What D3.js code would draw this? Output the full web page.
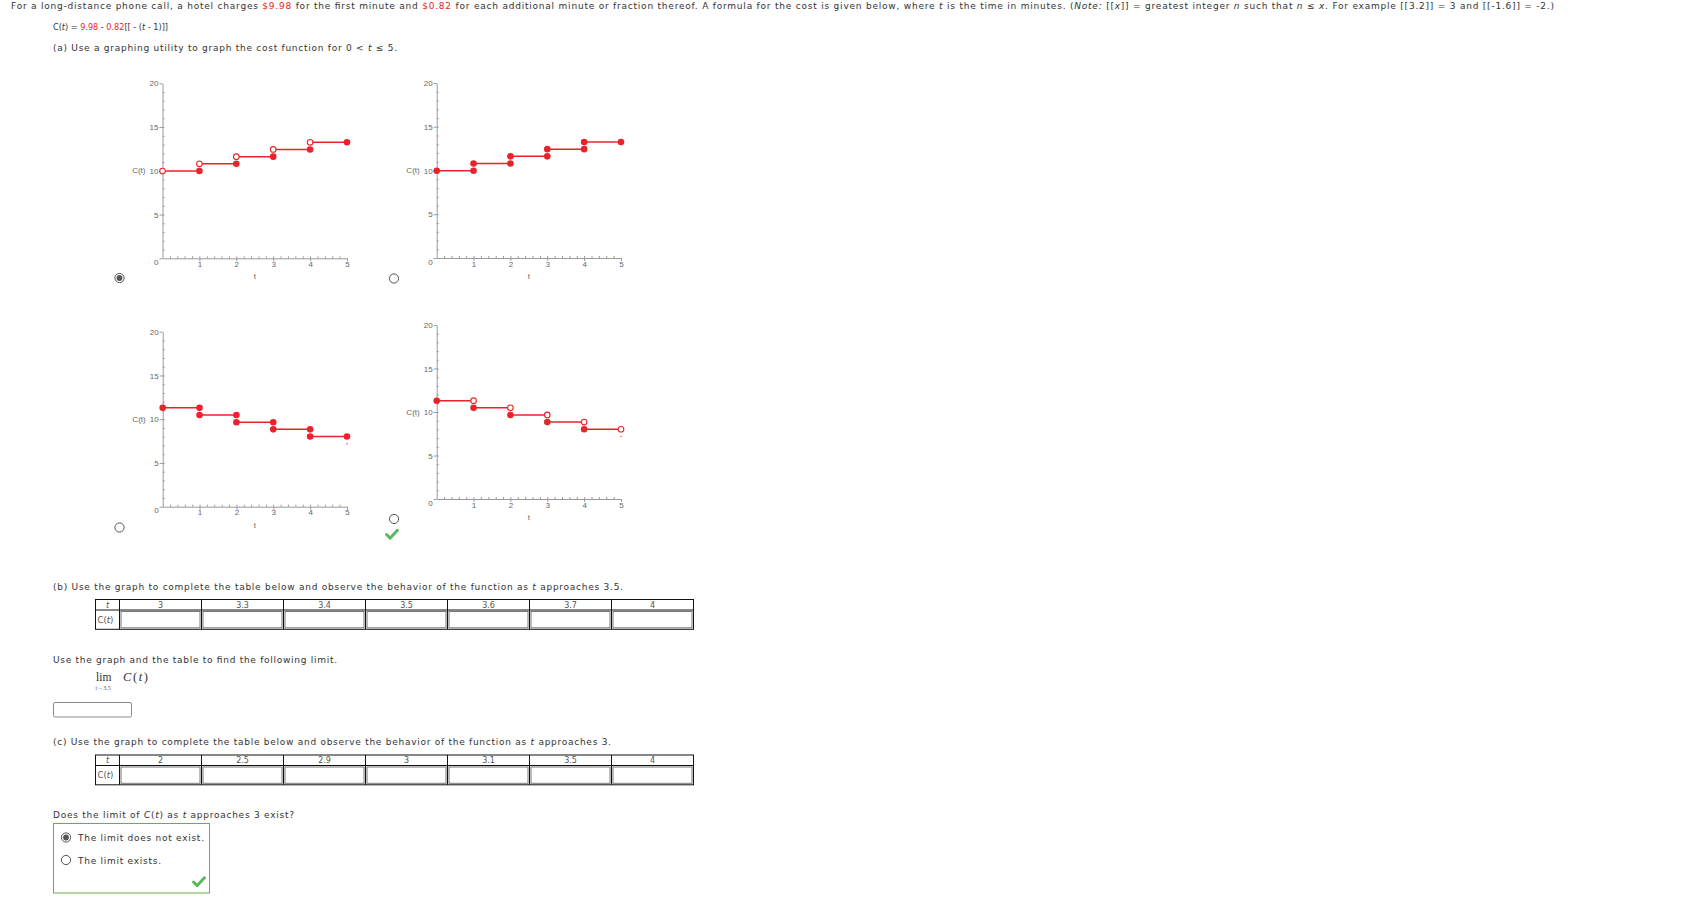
<!DOCTYPE html>
<html>
<head>
<meta charset="utf-8">
<script src="https://cdn.jsdelivr.net/npm/d3@7"></script>
<style>
  body { margin: 0; background: #fff; }
  text { white-space: pre; }
</style>
</head>
<body>
<svg id="page" width="1703" height="909"></svg>
<script>
// --- data ---
const tStart = [0, 1, 2, 3, 4];
const tEnd = [1, 2, 3, 4, 5];
const costUp = [9.98, 10.80, 11.62, 12.44, 13.26];     // graphs 1 and 2
const costDown = [11.30, 10.48, 9.66, 8.84, 8.02];     // graphs 3 and 4
const strayDown = [5, 7.20];                           // tiny mark under the last step
const yTicks = [0, 5, 10, 15, 20];
const xTicks = [1, 2, 3, 4, 5];
const tableB = ["3", "3.3", "3.4", "3.5", "3.6", "3.7", "4"];
const tableC = ["2", "2.5", "2.9", "3", "3.1", "3.5", "4"];

const RED = "#e8232b";
const INK = "#333";
const FONT = "'DejaVu Sans', Verdana, sans-serif";
const SERIF = "'Liberation Serif', 'Times New Roman', serif";
const AXISFONT = "'Liberation Sans', Arial, sans-serif";

const svg = d3.select("#page");

// text with italic / red runs
function rich(x, y, parts, width, adjust) {
    const t = svg.append("text")
        .attr("x", x).attr("y", y)
        .attr("font-family", FONT)
        .attr("font-size", 9)
        .attr("fill", INK);
    parts.forEach(p => {
        const s = t.append("tspan").text(p[0]);
        if (p[1] && p[1].includes("i")) s.attr("font-style", "italic");
        if (p[1] && p[1].includes("r")) s.attr("fill", RED);
    });
    if (width) t.attr("textLength", width).attr("lengthAdjust", adjust || "spacing");
    return t;
}

// --- header ---
rich(11, 9, [
    ["For a long-distance phone call, a hotel charges "], ["$9.98", "r"],
    [" for the first minute and "], ["$0.82", "r"],
    [" for each additional minute or fraction thereof. A formula for the cost is given below, where "],
    ["t", "i"], [" is the time in minutes. ("], ["Note:", "i"], [" [["], ["x", "i"],
    ["]] = greatest integer "], ["n", "i"], [" such that "], ["n", "i"], [" ≤ "], ["x", "i"],
    [". For example [[3.2]] = 3 and [[-1.6]] = -2.)"]
], 1543);
rich(53, 29.5, [
    ["C("], ["t", "i"], [") = "], ["9.98", "r"], [" - "], ["0.82", "r"],
    ["[[ - ("], ["t", "i"], [" - 1)]]"]
], 115, "spacingAndGlyphs");
rich(53, 51, [
    ["(a) Use a graphing utility to graph the cost function for 0 < "], ["t", "i"], [" ≤ 5."]
], 344);

// --- the four answer graphs ---
const panels = [
    { ax: 162.5, x5: 347, y0: 258.3, y20: 83.3, values: costUp, leftOpen: true, rightOpen: false,
      radio: [119.5, 278], selected: true },
    { ax: 436.7, x5: 621, y0: 258, y20: 83, values: costUp, leftOpen: false, rightOpen: false,
      radio: [394, 278.5] },
    { ax: 162.7, x5: 347, y0: 506.7, y20: 331.7, values: costDown, leftOpen: false, rightOpen: false,
      radio: [119.5, 527.5], stray: true },
    { ax: 436.7, x5: 621, y0: 499, y20: 325, values: costDown, leftOpen: false, rightOpen: true,
      radio: [394, 519], stray: true, check: [392, 534.5] }
];

function radio(cx, cy, selected) {
    svg.append("circle").attr("cx", cx).attr("cy", cy).attr("r", 4.6)
        .attr("fill", "#fff").attr("stroke", "#555").attr("stroke-width", 1);
    if (selected) {
        svg.append("circle").attr("cx", cx).attr("cy", cy).attr("r", 2.9).attr("fill", "#555");
    }
}

function check(cx, cy) {
    svg.append("path")
        .attr("d", `M${cx - 5.5},${cy} L${cx - 1.8},${cy + 3.6} L${cx + 5.5},${cy - 4.2}`)
        .attr("fill", "none").attr("stroke", "#5cb85c")
        .attr("stroke-width", 3).attr("stroke-linecap", "round").attr("stroke-linejoin", "round");
}

panels.forEach(p => {
    const x = d3.scaleLinear().domain([0, 5]).range([p.ax, p.x5]);
    const y = d3.scaleLinear().domain([0, 20]).range([p.y0, p.y20]);
    const g = svg.append("g");

    // minor ticks
    g.append("g")
        .attr("transform", `translate(0,${p.y0})`)
        .call(d3.axisTop(x).tickValues(d3.range(0.2, 5, 0.2)).tickSize(2).tickSizeOuter(0).tickFormat(""))
        .call(a => a.select(".domain").remove());
    g.append("g")
        .attr("transform", `translate(${p.ax},0)`)
        .call(d3.axisRight(y).tickValues(d3.range(1, 20, 1)).tickSize(2).tickSizeOuter(0).tickFormat(""))
        .call(a => a.select(".domain").remove());

    // main axes
    g.append("g")
        .attr("transform", `translate(0,${p.y0})`)
        .call(d3.axisBottom(x).tickValues(xTicks).tickFormat(d3.format("d"))
            .tickSize(3).tickPadding(0).tickSizeOuter(0));
    const gy = g.append("g")
        .attr("transform", `translate(${p.ax},0)`)
        .call(d3.axisLeft(y).tickValues(yTicks).tickFormat(d3.format("d"))
            .tickSize(3).tickPadding(1).tickSizeOuter(0));
    gy.selectAll(".tick text").filter(d => d === 0).attr("dy", "0.78em");

    g.selectAll(".domain, .tick line").attr("stroke", "#9a9a9a");
    g.selectAll("g").attr("font-family", AXISFONT).attr("font-size", 8);
    g.selectAll(".tick text").attr("fill", "#666");

    g.append("text")
        .attr("x", p.ax - 17).attr("y", y(10)).attr("dy", "0.32em")
        .attr("text-anchor", "end")
        .attr("font-family", AXISFONT).attr("font-size", 8)
        .attr("fill", "#666").text("C(t)");
    g.append("text")
        .attr("x", x(2.5)).attr("y", p.y0 + 18.5).attr("dy", "0.32em")
        .attr("text-anchor", "middle")
        .attr("font-family", AXISFONT).attr("font-size", 8)
        .attr("fill", "#666").text("t");

    // steps
    g.selectAll(".step")
        .data(p.values)
        .join("line")
        .attr("x1", (d, i) => x(tStart[i]))
        .attr("x2", (d, i) => x(tEnd[i]))
        .attr("y1", d => y(d))
        .attr("y2", d => y(d))
        .attr("stroke", RED)
        .attr("stroke-width", 1.5);

    const ends = [];
    p.values.forEach((v, i) => {
        ends.push({ t: tStart[i], v: v, open: p.leftOpen });
        ends.push({ t: tEnd[i], v: v, open: p.rightOpen });
    });
    g.selectAll(".end")
        .data(ends)
        .join("circle")
        .attr("cx", d => x(d.t))
        .attr("cy", d => y(d.v))
        .attr("r", d => d.open ? 2.8 : 3.3)
        .attr("fill", d => d.open ? "#fff" : RED)
        .attr("stroke", RED)
        .attr("stroke-width", d => d.open ? 1.1 : 0);

    if (p.stray) {
        g.append("circle")
            .attr("cx", x(strayDown[0])).attr("cy", y(strayDown[1]))
            .attr("r", 0.7).attr("fill", RED);
    }

    radio(p.radio[0], p.radio[1], p.selected);
    if (p.check) check(p.check[0], p.check[1]);
});

// --- tables ---
function table(top, values) {
    const left = 95.5, right = 693.5, firstRight = 119.5;
    const h1 = 10.5, h2 = 19.3;
    const col = d3.scaleBand().domain(d3.range(values.length)).range([firstRight, right]);
    const g = svg.append("g");

    g.append("rect")
        .attr("x", left).attr("y", top).attr("width", right - left).attr("height", h1 + h2)
        .attr("fill", "none").attr("stroke", "#111");
    g.append("line")
        .attr("x1", left).attr("x2", right).attr("y1", top + h1).attr("y2", top + h1)
        .attr("stroke", "#111");
    g.selectAll(".sep")
        .data(values)
        .join("line")
        .attr("x1", (d, i) => col(i)).attr("x2", (d, i) => col(i))
        .attr("y1", top).attr("y2", top + h1 + h2)
        .attr("stroke", "#111");

    // answer inputs
    g.selectAll(".inp")
        .data(values)
        .join("rect")
        .attr("x", (d, i) => col(i) + 1.5)
        .attr("y", top + h1 + 1.5)
        .attr("width", col.bandwidth() - 3)
        .attr("height", h2 - 3)
        .attr("fill", "#fff").attr("stroke", "#777").attr("stroke-width", 1);

    g.selectAll(".val")
        .data(values)
        .join("text")
        .attr("x", (d, i) => col(i) + col.bandwidth() / 2)
        .attr("y", top + 8)
        .attr("text-anchor", "middle")
        .attr("font-family", FONT).attr("font-size", 8).attr("fill", "#555")
        .text(d => d);

    g.append("text")
        .attr("x", (left + firstRight) / 2).attr("y", top + 8)
        .attr("text-anchor", "middle").attr("font-style", "italic")
        .attr("font-family", FONT).attr("font-size", 8).attr("fill", "#555")
        .text("t");
    const lab = g.append("text")
        .attr("x", left + 2).attr("y", top + h1 + h2 / 2).attr("dy", "0.36em")
        .attr("font-family", FONT).attr("font-size", 8.5).attr("fill", "#555");
    lab.append("tspan").text("C(");
    lab.append("tspan").attr("font-style", "italic").text("t");
    lab.append("tspan").text(")");
}

// --- part (b) ---
rich(53, 590, [
    ["(b) Use the graph to complete the table below and observe the behavior of the function as "],
    ["t", "i"], [" approaches 3.5."]
], 570);
table(599.5, tableB);
rich(53, 662.5, [["Use the graph and the table to find the following limit."]], 284);

svg.append("text")
    .attr("x", 96).attr("y", 681)
    .attr("font-family", SERIF).attr("font-size", 11.5)
    .attr("fill", INK).text("lim");
svg.append("text")
    .attr("x", 95.5).attr("y", 689.5)
    .attr("font-family", SERIF).attr("font-size", 6)
    .attr("fill", "#555").text("t→3.5");
const ct = svg.append("text")
    .attr("x", 123).attr("y", 681)
    .attr("font-family", SERIF).attr("font-size", 12.5)
    .attr("fill", INK)
    .attr("textLength", 25).attr("lengthAdjust", "spacing");
ct.append("tspan").attr("font-style", "italic").text("C");
ct.append("tspan").text("(");
ct.append("tspan").attr("font-style", "italic").text("t");
ct.append("tspan").text(")");

svg.append("rect")
    .attr("x", 53.5).attr("y", 702.5).attr("width", 78).attr("height", 14.5).attr("rx", 1.5)
    .attr("fill", "#fff").attr("stroke", "#8a8a8a");

// --- part (c) ---
rich(53, 745, [
    ["(c) Use the graph to complete the table below and observe the behavior of the function as "],
    ["t", "i"], [" approaches 3."]
], 558);
table(755, tableC);
rich(53, 818, [
    ["Does the limit of "], ["C", "i"], ["("], ["t", "i"], [") as "], ["t", "i"], [" approaches 3 exist?"]
], 241);

svg.append("rect")
    .attr("x", 53.5).attr("y", 823.5).attr("width", 156).attr("height", 69.5)
    .attr("fill", "none").attr("stroke", "#6aae45");
radio(66, 837.5, true);
rich(78, 841, [["The limit does not exist."]], 126);
radio(66, 860, false);
rich(78, 863.5, [["The limit exists."]], 83);
check(199, 882);
</script>
</body>
</html>
